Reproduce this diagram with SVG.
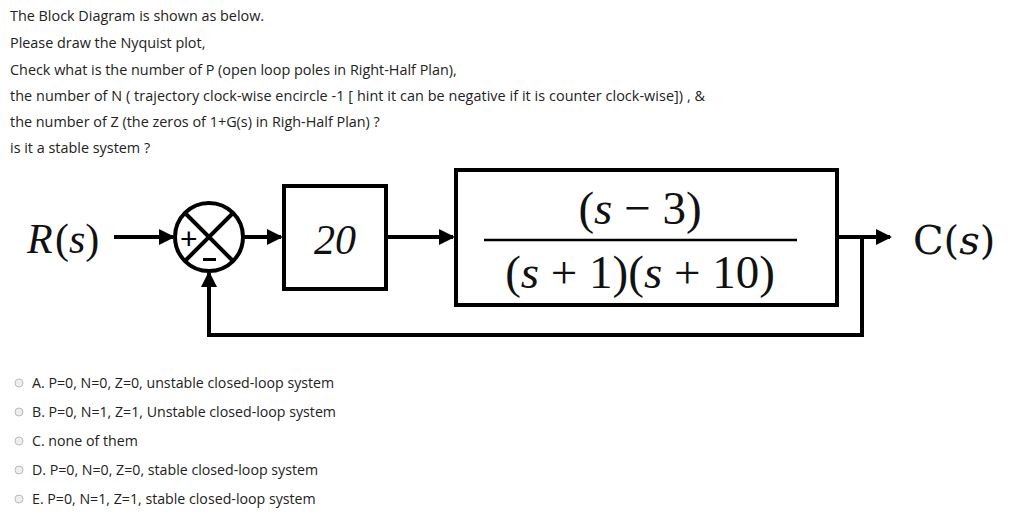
<svg xmlns="http://www.w3.org/2000/svg" width="1024" height="530" viewBox="0 0 1024 530">
<style>
.t{font-family:"Open Sans","Noto Sans",sans-serif;font-size:14.4px;fill:#222}
.o{font-size:14.2px}
.m{font-family:"Liberation Serif","DejaVu Serif",serif;fill:#111}
.ln{stroke:#000;stroke-width:4;fill:none}
.rb{fill:#eee;stroke:#bbb;stroke-width:1}
</style>
<defs><marker id="a" markerWidth="4" markerHeight="4" refX="3.5" refY="2" orient="auto" markerUnits="strokeWidth"><path d="M0,0 L4,2 L0,4 z" fill="#000"/></marker></defs>
<rect width="1024" height="530" fill="#fff"/>
<g id="question">
<text class="t" x="10" y="21">The Block Diagram is shown as below.</text>
<text class="t" x="10" y="48">Please draw the Nyquist plot,</text>
<text class="t" x="10" y="75">Check what is the number of P (open loop poles in Right-Half Plan),</text>
<text class="t" x="10" y="101" textLength="695">the number of N ( trajectory  clock-wise encircle -1 [ hint it can be negative if it is counter clock-wise]) , &amp;</text>
<text class="t" x="10" y="127">the number of Z (the zeros of  1+G(s) in Righ-Half Plan) ?</text>
<text class="t" x="10" y="153">is it a stable system ?</text>
</g>
<g id="R"><text class="m" x="27" y="253" font-size="42" font-style="italic">R</text><text class="m" x="55" y="253" font-size="42">(<tspan font-style="italic">s</tspan>)</text></g>
<g id="sum">
<circle cx="209" cy="237" r="34" fill="#fff" stroke="#000" stroke-width="4"/>
<path d="M185,213 L233,261 M233,213 L185,261" stroke="#000" stroke-width="4"/>
<text x="180" y="249" font-family="Liberation Sans,sans-serif" font-size="30" fill="#000">+</text>
<rect x="203" y="258" width="13" height="3" fill="#000"/>
</g>
<g id="gain"><rect x="284" y="186" width="102" height="103" fill="#fff" stroke="#000" stroke-width="4"/><text class="m" x="335" y="254" font-size="42" font-style="italic" text-anchor="middle">20</text></g>
<g id="plant"><rect x="456" y="170" width="381" height="135" fill="#fff" stroke="#000" stroke-width="4"/>
<text class="m" x="640" y="224" font-size="47" text-anchor="middle">(<tspan font-style="italic">s</tspan> − 3)</text>
<line x1="484" y1="240" x2="797" y2="240" stroke="#000" stroke-width="2.5"/>
<text class="m" x="640" y="288" font-size="47" text-anchor="middle">(<tspan font-style="italic">s</tspan> + 1)(<tspan font-style="italic">s</tspan> + 10)</text></g>
<g id="C"><text x="913" y="254" font-family="DejaVu Serif,serif" font-size="40" fill="#111">C(<tspan font-style="italic">s</tspan>)</text></g>
<g id="connectors">
<line class="ln" x1="114" y1="237" x2="173" y2="237" marker-end="url(#a)"/>
<line class="ln" x1="243" y1="237" x2="281" y2="237" marker-end="url(#a)"/>
<line class="ln" x1="386" y1="237" x2="453" y2="237" marker-end="url(#a)"/>
<line class="ln" x1="837" y1="237" x2="890" y2="237" marker-end="url(#a)"/>
<path class="ln" d="M862,237 V335 H209 V273" marker-end="url(#a)"/>
</g>
<g id="options">
<circle class="rb" cx="19" cy="383" r="4"/><text class="t o" x="32" y="388">A. P=0, N=0, Z=0, unstable closed-loop system</text>
<circle class="rb" cx="19" cy="412" r="4"/><text class="t o" x="32" y="417">B. P=0, N=1, Z=1, Unstable closed-loop system</text>
<circle class="rb" cx="19" cy="441" r="4"/><text class="t o" x="32" y="446">C. none of them</text>
<circle class="rb" cx="19" cy="470" r="4"/><text class="t o" x="32" y="475">D. P=0, N=0, Z=0, stable closed-loop system</text>
<circle class="rb" cx="19" cy="499" r="4"/><text class="t o" x="32" y="504">E. P=0, N=1, Z=1, stable closed-loop system</text>
</g>
</svg>
